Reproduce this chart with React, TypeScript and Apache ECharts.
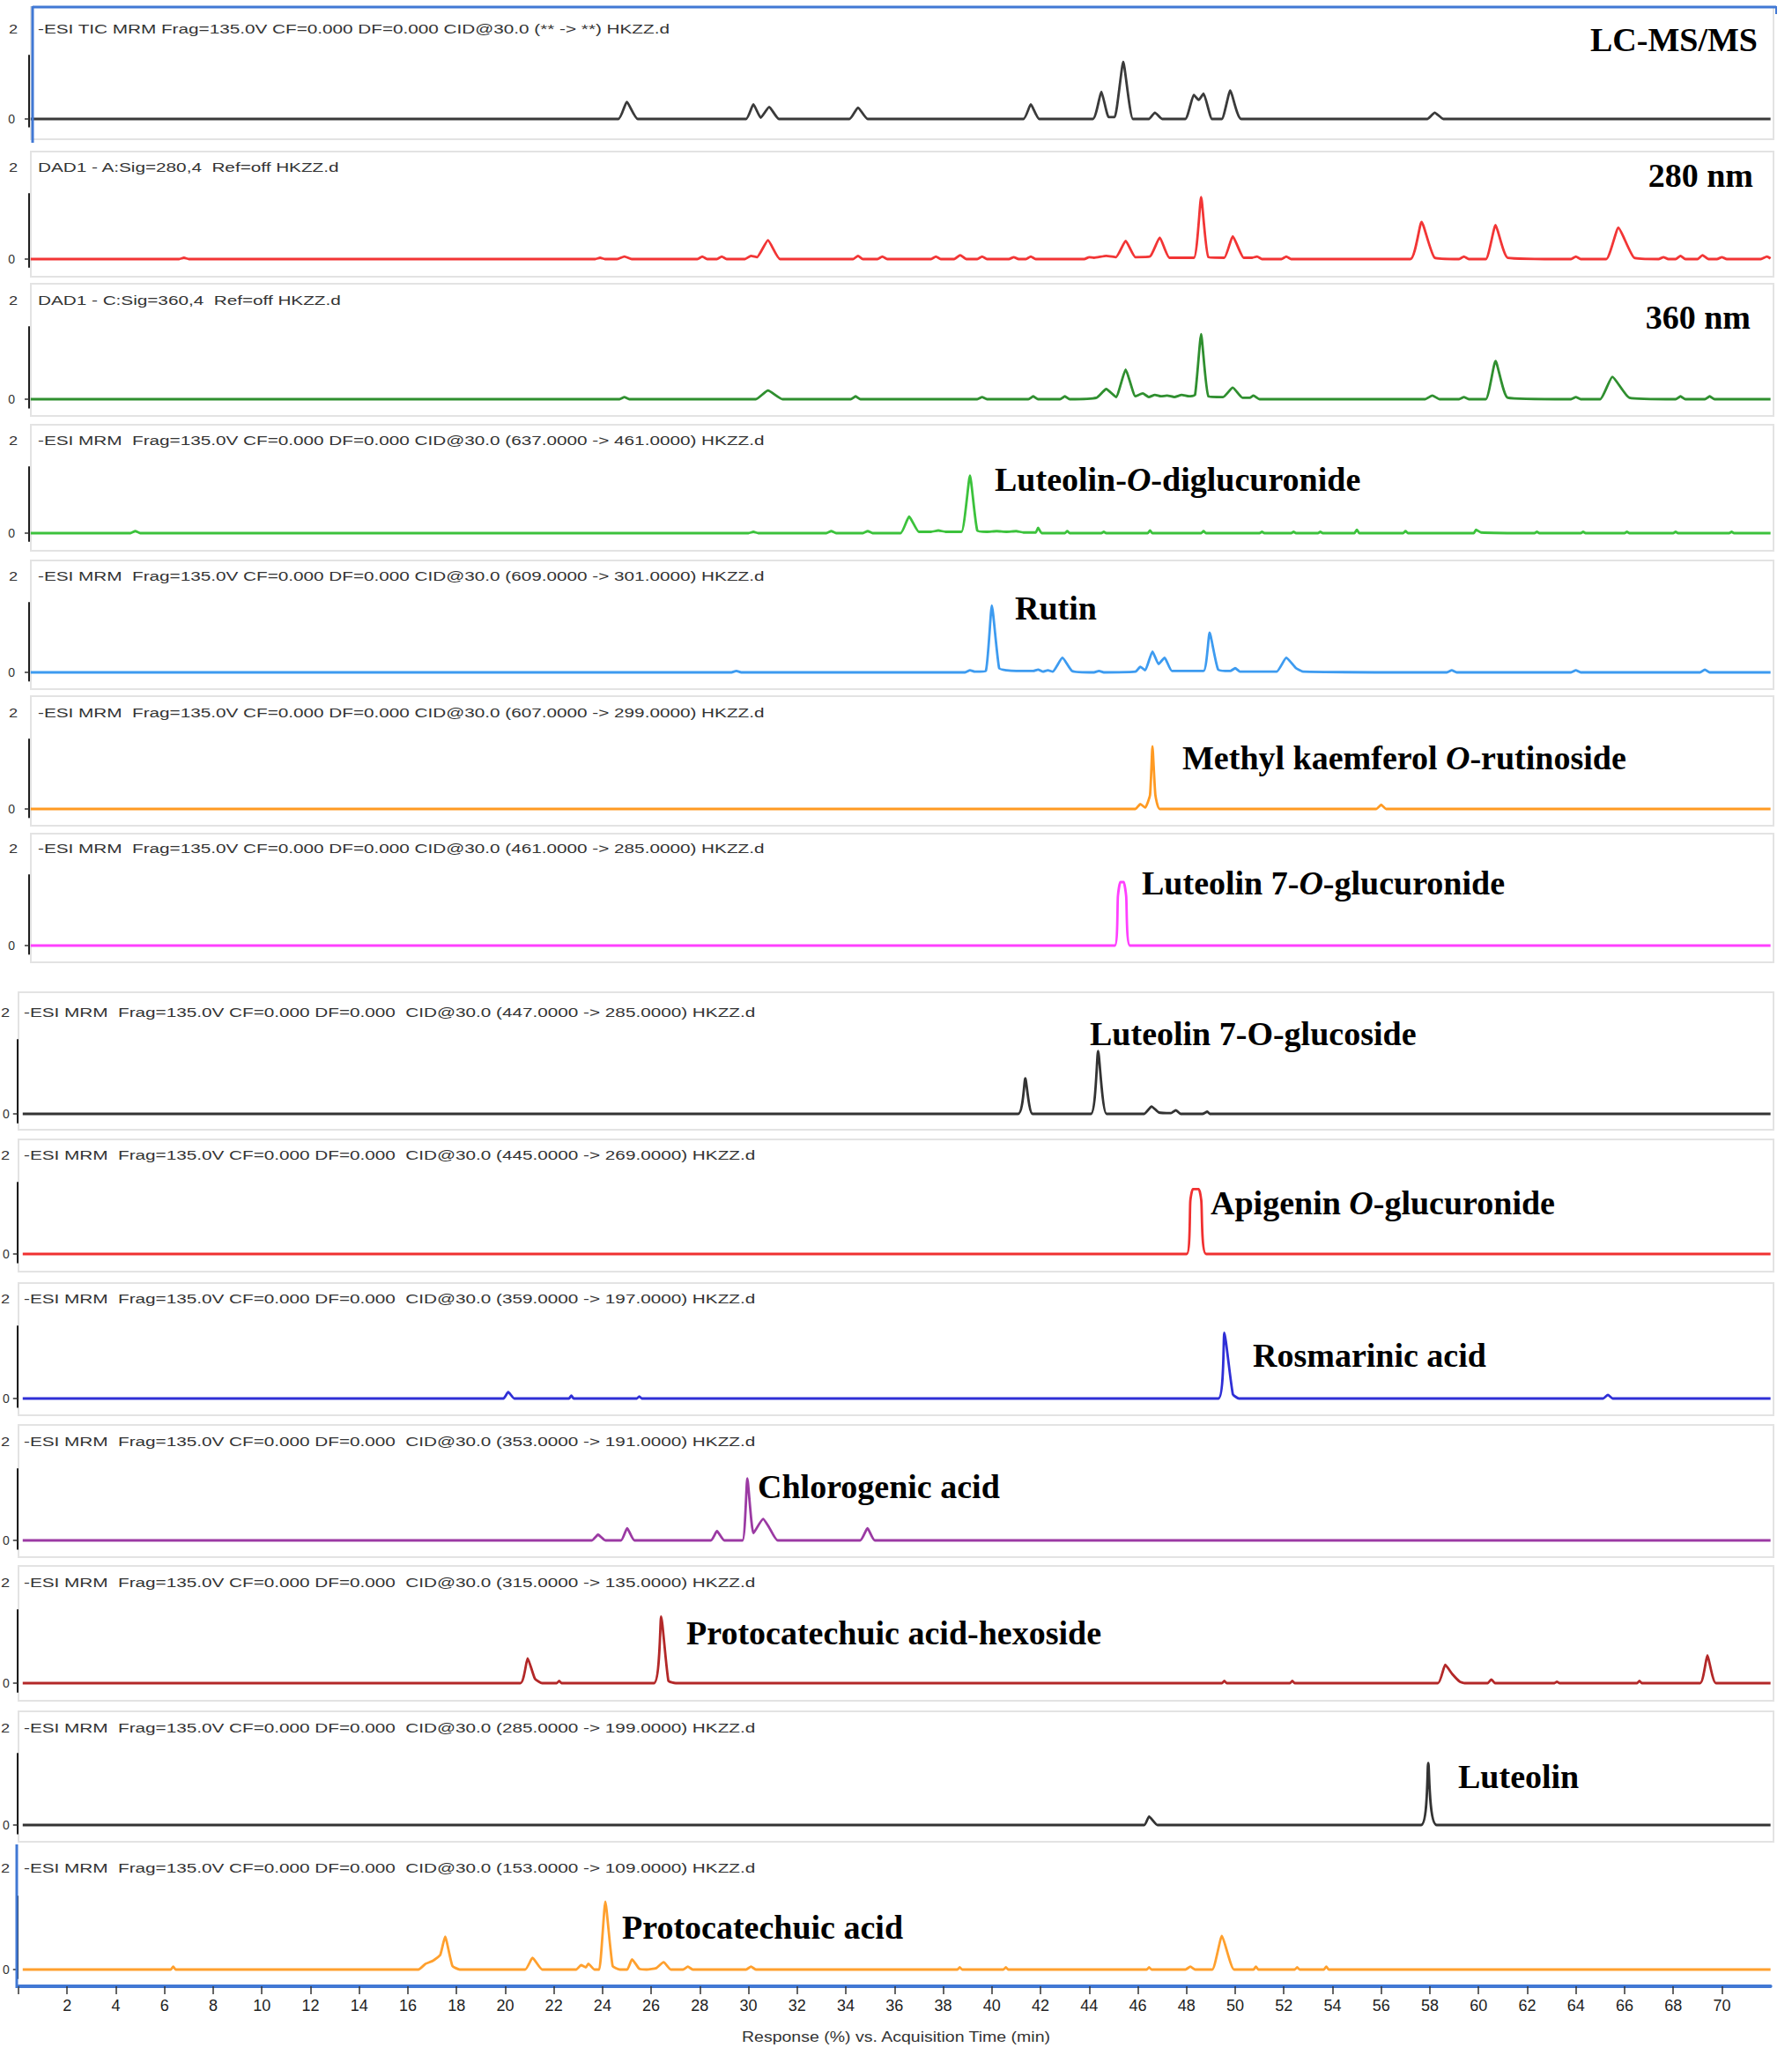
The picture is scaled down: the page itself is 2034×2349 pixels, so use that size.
import React, { useEffect, useRef } from "react";
import * as echarts from "echarts";

// Acquisition time axis (min)
const TIME_MAX = 72;
const TICK_VALUES = [0, 2, 4, 6, 8, 10, 12, 14, 16, 18, 20, 22, 24, 26, 28, 30, 32, 34, 36, 38, 40, 42, 44, 46, 48, 50, 52, 54, 56, 58, 60, 62, 64, 66, 68, 70];
const TICK_LABELS = [2, 4, 6, 8, 10, 12, 14, 16, 18, 20, 22, 24, 26, 28, 30, 32, 34, 36, 38, 40, 42, 44, 46, 48, 50, 52, 54, 56, 58, 60, 62, 64, 66, 68, 70];

// Traces: [acquisition time (min), response (% of panel full scale)]
const ticTrace = [
  [0.5, 0], [24.65, 0], [25.0, 27], [25.45, 0], [29.9, 0], [30.2, 23], [30.5, 2], [30.85, 19], [31.25, 0],
  [34.15, 0], [34.5, 18], [34.9, 0], [41.3, 0], [41.6, 23], [41.95, 0], [44.15, 0], [44.5, 43], [44.8, 3],
  [45.05, 3], [45.4, 90], [45.8, 0], [46.45, 0], [46.7, 10], [47.0, 0], [47.95, 0], [48.3, 38], [48.5, 30],
  [48.7, 40], [49.05, 0], [49.45, 0], [49.8, 45], [50.25, 0], [57.9, 0], [58.2, 10], [58.55, 0], [72, 0],
];

const dad280Trace = [
  [0.5, 0], [6.6, 0], [6.8, 2], [7.0, 0], [23.7, 0], [23.9, 2], [24.1, 0], [24.6, 0], [24.9, 4], [25.2, 0],
  [27.9, 0], [28.1, 4], [28.3, 0], [28.7, 0], [28.9, 4], [29.1, 0], [29.85, 0], [30.1, 5], [30.35, 3],
  [30.8, 29], [31.3, 0], [34.3, 0], [34.5, 5], [34.7, 0], [35.3, 0], [35.5, 4], [35.7, 0], [37.5, 0],
  [37.7, 4], [37.9, 0], [38.45, 0], [38.7, 6], [38.95, 0], [39.4, 0], [39.6, 4], [39.8, 0], [40.7, 0],
  [40.9, 3], [41.1, 0], [41.4, 0], [41.6, 4], [41.8, 0], [43.8, 0], [44.0, 3], [44.2, 2], [44.7, 5],
  [45.1, 3], [45.5, 28], [45.9, 3], [46.5, 4], [46.9, 33], [47.3, 2], [48.3, 2], [48.6, 95], [48.9, 3],
  [49.55, 2], [49.9, 35], [50.35, 2], [50.7, 2], [50.9, 4], [51.1, 0], [51.9, 0], [52.1, 4], [52.3, 0],
  [57.2, 0], [57.66, 57], [58.2, 2], [59.2, 0], [59.4, 4], [59.6, 0], [60.3, 0], [60.7, 52], [61.2, 2],
  [63.8, 0], [64.0, 4], [64.2, 0], [65.25, 0], [65.75, 48], [66.4, 2], [67.4, 0], [67.6, 3], [67.8, 0],
  [68.1, 0], [68.3, 5], [68.5, 0], [69.0, 0], [69.2, 6], [69.45, 0], [69.8, 0], [70.0, 3], [70.2, 0],
  [71.6, 0], [71.85, 4], [72, 1],
];

const dad360Trace = [
  [0.5, 0], [24.7, 0], [24.9, 3], [25.1, 0], [30.3, 0], [30.8, 12], [31.4, 0], [34.2, 0], [34.4, 4], [34.6, 0],
  [39.4, 0], [39.6, 3], [39.8, 0], [41.5, 0], [41.7, 4], [41.9, 0], [42.8, 0], [43.0, 4], [43.2, 0],
  [44.3, 2], [44.7, 14], [45.1, 3], [45.5, 41], [45.9, 4], [46.2, 8], [46.45, 3], [46.7, 6], [46.95, 4],
  [47.2, 5], [47.5, 3], [47.8, 6], [48.1, 4], [48.35, 6], [48.6, 90], [48.9, 4], [49.5, 3], [49.9, 16],
  [50.3, 2], [50.6, 2], [50.75, 5], [51.0, 0], [57.8, 0], [58.1, 5], [58.4, 0], [59.2, 0], [59.4, 3],
  [59.6, 0], [60.3, 0], [60.7, 53], [61.2, 2], [63.8, 0], [64.0, 3], [64.2, 0], [65.0, 0], [65.5, 31],
  [66.2, 2], [68.1, 0], [68.3, 4], [68.5, 0], [69.3, 0], [69.5, 4], [69.7, 0], [72, 0],
];

const lutDiglucuronideTrace = [
  [0.5, 0], [4.6, 0], [4.8, 3], [5.0, 0], [30.0, 0], [30.2, 2], [30.4, 0], [33.2, 0], [33.4, 3], [33.6, 0],
  [34.7, 0], [34.9, 3], [35.1, 0], [36.25, 0], [36.6, 25], [37.0, 2], [37.5, 2], [37.8, 4], [38.1, 2],
  [38.75, 2], [39.1, 87], [39.4, 4], [39.8, 2], [40.2, 3], [40.6, 2], [41.0, 3], [41.3, 1], [41.8, 1],
  [41.9, 8], [42.05, 0], [43.0, 0], [43.1, 3], [43.2, 0], [44.5, 0], [44.6, 2], [44.7, 0], [46.4, 0],
  [46.5, 4], [46.6, 0], [48.6, 0], [48.7, 3], [48.8, 0], [51.0, 0], [51.1, 2], [51.2, 0], [52.3, 0],
  [52.4, 2], [52.5, 0], [53.4, 0], [53.5, 2], [53.6, 0], [54.9, 0], [55.0, 5], [55.1, 0], [56.9, 0],
  [57.0, 3], [57.1, 0], [59.8, 0], [59.9, 5], [60.1, 1], [62.3, 0], [62.4, 2], [62.5, 0], [64.2, 0],
  [64.3, 2], [64.4, 0], [66.0, 0], [66.1, 2], [66.2, 0], [68.0, 0], [68.1, 2], [68.2, 0], [70.3, 0],
  [70.4, 2], [70.5, 0], [72, 0],
];

const rutinTrace = [
  [0.5, 0], [29.3, 0], [29.5, 2], [29.7, 0], [38.9, 0], [39.1, 3], [39.3, 1], [39.75, 2], [40.0, 96],
  [40.3, 6], [40.6, 3], [41.0, 2], [41.7, 2], [41.9, 4], [42.1, 1], [42.3, 3], [42.5, 1], [42.9, 21],
  [43.3, 2], [44.2, 0], [44.4, 2], [44.6, 0], [45.9, 1], [46.1, 8], [46.3, 3], [46.6, 30], [46.85, 12],
  [47.1, 21], [47.4, 2], [48.7, 2], [48.95, 57], [49.3, 4], [49.8, 2], [50.0, 6], [50.2, 1], [51.7, 1],
  [52.1, 21], [52.5, 6], [52.8, 1], [58.7, 0], [58.9, 3], [59.1, 0], [63.8, 0], [64.0, 3], [64.2, 0],
  [69.1, 0], [69.3, 4], [69.5, 0], [72, 0],
];

const methylKaempferolTrace = [
  [0.5, 0], [45.9, 0], [46.1, 7], [46.3, 2], [46.5, 20], [46.6, 90], [46.72, 20], [46.9, 0], [55.8, 0],
  [56.0, 6], [56.2, 0], [72, 0],
];

const lutGlucuronideTrace = [
  [0.5, 0], [45.05, 0], [45.18, 70], [45.28, 90], [45.42, 90], [45.52, 70], [45.68, 0], [72, 0],
];

const lutGlucosideTrace = [
  [0, 0], [41.0, 0], [41.3, 48], [41.6, 0], [44.0, 0], [44.3, 85], [44.65, 0], [46.2, 0], [46.5, 10],
  [46.8, 2], [47.3, 1], [47.5, 5], [47.7, 0], [48.6, 0], [48.8, 3], [48.9, 0], [72, 0],
];

const apigeninTrace = [
  [0, 0], [47.95, 0], [48.1, 75], [48.2, 91], [48.45, 91], [48.55, 75], [48.75, 0], [72, 0],
];

const rosmarinicTrace = [
  [0, 0], [19.8, 0], [20.0, 9], [20.25, 0], [22.5, 0], [22.6, 4], [22.7, 0], [25.3, 0], [25.4, 3],
  [25.5, 0], [49.25, 0], [49.5, 91], [49.85, 6], [50.1, 0], [65.1, 0], [65.3, 5], [65.5, 0], [72, 0],
];

const chlorogenicTrace = [
  [0, 0], [23.45, 0], [23.7, 8], [24.0, 0], [24.65, 0], [24.9, 17], [25.2, 0], [28.35, 0], [28.6, 13],
  [28.9, 0], [29.65, 0], [29.85, 87], [30.1, 10], [30.5, 30], [30.75, 18], [31.1, 0], [34.5, 0],
  [34.8, 17], [35.1, 0], [72, 0],
];

const pcaHexosideTrace = [
  [0, 0], [20.5, 0], [20.8, 34], [21.1, 6], [21.4, 0], [22.0, 0], [22.1, 3], [22.2, 0], [26.0, 0],
  [26.3, 91], [26.6, 3], [26.9, 0], [49.4, 0], [49.5, 3], [49.6, 0], [52.2, 0], [52.3, 3], [52.4, 0],
  [58.3, 0], [58.6, 25], [58.9, 12], [59.2, 2], [59.4, 0], [60.35, 0], [60.5, 5], [60.65, 0], [63.1, 0],
  [63.2, 2], [63.3, 0], [66.5, 0], [66.6, 3], [66.7, 0], [69.1, 0], [69.4, 38], [69.75, 0], [72, 0],
];

const luteolinTrace = [
  [0, 0], [46.2, 0], [46.4, 12], [46.75, 0], [57.6, 0], [57.9, 87], [58.25, 0], [72, 0],
];

const pcaTrace = [
  [0, 0], [6.1, 0], [6.2, 4], [6.3, 0], [16.3, 0], [16.6, 8], [16.9, 12], [17.2, 20], [17.4, 45],
  [17.7, 5], [18.0, 0], [20.7, 0], [21.0, 16], [21.4, 0], [22.8, 0], [23.0, 6], [23.2, 3], [23.3, 8],
  [23.55, 0], [23.75, 0], [24.0, 93], [24.3, 5], [24.6, 0], [24.9, 0], [25.1, 14], [25.4, 1], [25.7, 0],
  [26.1, 2], [26.4, 10], [26.7, 0], [27.2, 0], [27.4, 4], [27.6, 0], [29.8, 0], [30.0, 4], [30.2, 0],
  [38.5, 0], [38.6, 3], [38.7, 0], [40.4, 0], [40.5, 3], [40.6, 0], [46.3, 0], [46.4, 3], [46.5, 0],
  [47.9, 0], [48.1, 4], [48.3, 0], [49.0, 0], [49.4, 46], [49.9, 0], [50.7, 0], [50.8, 4], [50.9, 0],
  [52.4, 0], [52.5, 3], [52.6, 0], [53.6, 0], [53.7, 4], [53.8, 0], [72, 0],
];

const TRACES = [
  ticTrace, dad280Trace, dad360Trace, lutDiglucuronideTrace, rutinTrace, methylKaempferolTrace,
  lutGlucuronideTrace, lutGlucosideTrace, apigeninTrace, rosmarinicTrace, chlorogenicTrace,
  pcaHexosideTrace, luteolinTrace, pcaTrace,
];

const HEADERS = [
  "-ESI TIC MRM Frag=135.0V CF=0.000 DF=0.000 CID@30.0 (** -> **) HKZZ.d",
  "DAD1 - A:Sig=280,4  Ref=off HKZZ.d",
  "DAD1 - C:Sig=360,4  Ref=off HKZZ.d",
  "-ESI MRM  Frag=135.0V CF=0.000 DF=0.000 CID@30.0 (637.0000 -> 461.0000) HKZZ.d",
  "-ESI MRM  Frag=135.0V CF=0.000 DF=0.000 CID@30.0 (609.0000 -> 301.0000) HKZZ.d",
  "-ESI MRM  Frag=135.0V CF=0.000 DF=0.000 CID@30.0 (607.0000 -> 299.0000) HKZZ.d",
  "-ESI MRM  Frag=135.0V CF=0.000 DF=0.000 CID@30.0 (461.0000 -> 285.0000) HKZZ.d",
  "-ESI MRM  Frag=135.0V CF=0.000 DF=0.000  CID@30.0 (447.0000 -> 285.0000) HKZZ.d",
  "-ESI MRM  Frag=135.0V CF=0.000 DF=0.000  CID@30.0 (445.0000 -> 269.0000) HKZZ.d",
  "-ESI MRM  Frag=135.0V CF=0.000 DF=0.000  CID@30.0 (359.0000 -> 197.0000) HKZZ.d",
  "-ESI MRM  Frag=135.0V CF=0.000 DF=0.000  CID@30.0 (353.0000 -> 191.0000) HKZZ.d",
  "-ESI MRM  Frag=135.0V CF=0.000 DF=0.000  CID@30.0 (315.0000 -> 135.0000) HKZZ.d",
  "-ESI MRM  Frag=135.0V CF=0.000 DF=0.000  CID@30.0 (285.0000 -> 199.0000) HKZZ.d",
  "-ESI MRM  Frag=135.0V CF=0.000 DF=0.000  CID@30.0 (153.0000 -> 109.0000) HKZZ.d",
];

// Compound / detector labels; {i|...} marks italic segments
const LABELS = [
  "LC-MS/MS",
  "280 nm",
  "360 nm",
  "Luteolin-{i|O}-diglucuronide",
  "Rutin",
  "Methyl kaemferol {i|O}-rutinoside",
  "Luteolin 7-{i|O}-glucuronide",
  "Luteolin 7-O-glucoside",
  "Apigenin {i|O}-glucuronide",
  "Rosmarinic acid",
  "Chlorogenic acid",
  "Protocatechuic acid-hexoside",
  "Luteolin",
  "Protocatechuic acid",
];

const COLORS = [
  "#3a3a3a", "#f23535", "#2f8f2f", "#3cc23c", "#3d9bf0", "#ff9a22", "#ff40ff",
  "#333333", "#f03030", "#2f2fd6", "#9b3aa3", "#b32828", "#333333", "#ffa02e",
];

// ---- layout (page pixels) ----
const X0 = 21;            // pixel of t = 0
const PX_PER_MIN = 27.62;
const UPPER_COUNT = 7;
const HEADER_Y = [33, 190, 341, 500, 654, 809, 963, 1149, 1311, 1474, 1636, 1796, 1961, 2120];
const AXIS_TOP = [63, 220, 371, 530, 684, 839, 993, 1180, 1342, 1505, 1667, 1827, 1990, 2152];
const BASELINE = [135, 294, 453, 605, 763, 918, 1073, 1264, 1423, 1587, 1748, 1910, 2071, 2235];
const FRAMES = [
  [35, 8, 2013, 158], [35, 172, 2013, 314], [35, 322, 2013, 472], [35, 482, 2013, 625],
  [35, 636, 2013, 782], [35, 790, 2013, 937], [35, 946, 2013, 1092], [21, 1126, 2013, 1282],
  [21, 1293, 2013, 1443], [21, 1456, 2013, 1606], [21, 1617, 2013, 1767], [21, 1777, 2013, 1930],
  [21, 1942, 2013, 2090],
];
const LABEL_POS: [number, number, string][] = [
  [1995, 45, "right"], [1990, 199, "right"], [1987, 360, "right"], [1129, 544, "left"],
  [1152, 690, "left"], [1342, 860, "left"], [1296, 1002, "left"], [1237, 1173, "left"],
  [1374, 1365, "left"], [1422, 1538, "left"], [860, 1687, "left"], [779, 1853, "left"],
  [1655, 2016, "left"], [706, 2187, "left"],
];

const SANS = "'Liberation Sans', Arial, sans-serif";
const SERIF = "'Liberation Serif', 'Times New Roman', serif";
const BLUE = "#4178d4";

export default function App() {
  const ref = useRef<HTMLDivElement>(null);

  useEffect(() => {
    if (!ref.current) return;
    const chart = echarts.init(ref.current, null, { renderer: "svg" });
    const plotWidth = TIME_MAX * PX_PER_MIN;
    const n = TRACES.length;

    const grids: any[] = [];
    const xAxes: any[] = [];
    const yAxes: any[] = [];
    const series: any[] = [];

    for (let i = 0; i < n; i++) {
      const span = BASELINE[i] - AXIS_TOP[i];
      const upper = i < UPPER_COUNT;
      grids.push({ left: X0, width: plotWidth, top: AXIS_TOP[i], height: span * 1.12 });
      xAxes.push({ type: "value", gridIndex: i, min: 0, max: TIME_MAX, show: false });
      yAxes.push({
        type: "value",
        gridIndex: i,
        min: -12,
        max: 100,
        offset: upper ? -12 : 6,
        axisLine: { show: true, onZero: false, lineStyle: { color: "#1e1e1e", width: 2 } },
        axisTick: { show: true, customValues: [0], length: 5, lineStyle: { color: "#333", width: 1.5 } },
        axisLabel: {
          show: true, customValues: [0], margin: upper ? 16 : 9,
          fontSize: 14, color: "#333", fontFamily: SANS,
        },
        splitLine: { show: false },
      });
      series.push({
        type: "line",
        xAxisIndex: i,
        yAxisIndex: i,
        data: TRACES[i],
        symbol: "none",
        smooth: 0.15,
        lineStyle: { color: COLORS[i], width: 2.8 },
        z: 3,
      });
    }

    // shared acquisition-time axis under the last panel
    grids.push({ left: X0, width: plotWidth, top: 2230, height: 24 });
    xAxes.push({
      type: "value",
      gridIndex: n,
      min: 0,
      max: TIME_MAX,
      axisLine: { show: true, onZero: false, lineStyle: { color: BLUE, width: 4 } },
      axisTick: { show: true, customValues: TICK_VALUES, length: 9, lineStyle: { color: "#333", width: 1.5 } },
      axisLabel: { customValues: TICK_LABELS, fontSize: 18, color: "#222", margin: 13, fontFamily: SANS },
      splitLine: { show: false },
    });
    yAxes.push({ type: "value", gridIndex: n, min: 0, max: 1, show: false });

    const graphics: any[] = [];
    FRAMES.forEach(([x1, y1, x2, y2]) => {
      graphics.push({
        type: "rect", z: 0,
        shape: { x: x1, y: y1, width: x2 - x1, height: y2 - y1 },
        style: { fill: "none", stroke: "#e3e3e3", lineWidth: 2 },
      });
    });
    // highlighted frame edges
    graphics.push({ type: "line", z: 5, shape: { x1: 37, y1: 8, x2: 2016, y2: 8 }, style: { stroke: BLUE, lineWidth: 3 } });
    graphics.push({ type: "line", z: 5, shape: { x1: 37, y1: 7, x2: 37, y2: 162 }, style: { stroke: BLUE, lineWidth: 3 } });
    graphics.push({ type: "line", z: 5, shape: { x1: 2016, y1: 7, x2: 2016, y2: 16 }, style: { stroke: BLUE, lineWidth: 2 } });
    graphics.push({ type: "line", z: 5, shape: { x1: 19, y1: 2093, x2: 19, y2: 2256 }, style: { stroke: BLUE, lineWidth: 3 } });

    for (let i = 0; i < n; i++) {
      const upper = i < UPPER_COUNT;
      graphics.push({
        type: "text", z: 10, x: upper ? 43 : 27, y: HEADER_Y[i], scaleX: 1.48,
        style: {
          text: HEADERS[i], fontSize: 14, fontFamily: SANS, fill: "#333333",
          verticalAlign: "middle", textVerticalAlign: "middle",
        },
      });
      graphics.push({
        type: "text", z: 10, x: upper ? 10 : 1, y: HEADER_Y[i], scaleX: 1.3,
        style: {
          text: "2", fontSize: 14, fontFamily: SANS, fill: "#333333",
          verticalAlign: "middle", textVerticalAlign: "middle",
        },
      });
      const [lx, ly, align] = LABEL_POS[i];
      graphics.push({
        type: "text", z: 10, x: lx, y: ly,
        style: {
          text: LABELS[i], fontSize: 38, fontWeight: "bold", fontFamily: SERIF, fill: "#000",
          align, textAlign: align, verticalAlign: "middle", textVerticalAlign: "middle",
          rich: {
            i: { fontSize: 38, fontWeight: "bold", fontStyle: "italic", fontFamily: SERIF, fill: "#000" },
          },
        },
      });
    }

    graphics.push({
      type: "text", z: 10, x: 1017, y: 2312, scaleX: 1.22,
      style: {
        text: "Response (%) vs. Acquisition Time (min)", fontSize: 16, fontFamily: SANS, fill: "#333",
        align: "center", textAlign: "center", verticalAlign: "middle", textVerticalAlign: "middle",
      },
    });

    chart.setOption({
      animation: false,
      backgroundColor: "#ffffff",
      grid: grids,
      xAxis: xAxes,
      yAxis: yAxes,
      series,
      graphic: { elements: graphics },
    });

    return () => chart.dispose();
  }, []);

  return (
    <div
      ref={ref}
      style={{ position: "absolute", left: 0, top: 0, width: 2034, height: 2349, background: "#fff" }}
    />
  );
}
